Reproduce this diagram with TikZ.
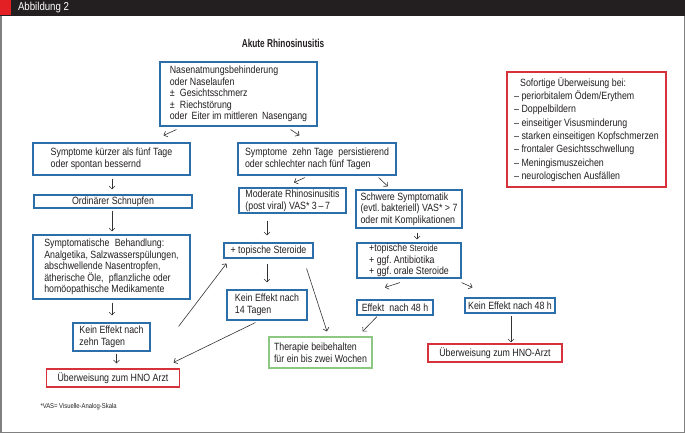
\documentclass[tikz,border=0pt]{standalone}
\usepackage{fontspec}
\setmainfont[FakeStretch=0.84]{Liberation Sans}
\newfontfamily\condfont[FakeStretch=0.72]{Liberation Sans}
\usetikzlibrary{arrows.meta}
\definecolor{boxblue}{RGB}{44,110,170}
\definecolor{boxred}{RGB}{214,50,60}
\definecolor{boxgreen}{RGB}{140,200,130}
\definecolor{headdark}{RGB}{35,31,32}
\definecolor{headred}{RGB}{227,32,36}
\definecolor{inkgray}{RGB}{51,51,51}
\begin{document}
\begin{tikzpicture}[x=1pt, y=-1pt,
	>={Straight Barb[length=3pt,width=6pt]},
	every node/.style={text=headdark, font=\fontsize{10.5}{11.6}\selectfont},
	blubox/.style={draw=boxblue, line width=1.1pt, fill=white, inner sep=0pt, align=left},
	redbox/.style={blubox, draw=boxred},
	grnbox/.style={blubox, draw=boxgreen},
	link/.style={->, draw=inkgray, line width=0.6pt}]
% Frame and header
\useasboundingbox (0,0) rectangle (685,433);
\draw[draw=gray, line width=1.5pt] (0.75,0) -- (0.75,432.25) -- (684.25,432.25) -- (684.25,0);
\fill[headdark] (0,0) rectangle (685,16);
\fill[headred] (0,0) rectangle (11,15);
\node[anchor=west, text=white, font=\fontsize{11.5}{12}\selectfont] (Head) at (14.5,8) {Abbildung 2};
\node[font=\condfont\bfseries\fontsize{11.5}{12}\selectfont] (Title) at (283,43) {Akute Rhinosinusitis};

% Start
\node[blubox, minimum width=157, minimum height=64] (Start) at (238.5,94)
	{Nasenatmungsbehinderung\\oder Naselaufen\\±\enspace Gesichtsschmerz\\±\enspace Riechstörung\\oder\, Eiter im mittleren\, Nasengang};

% Urgent referral
\node[redbox, minimum width=159, minimum height=115] (Urgent) at (586.5,129.5)
	{\hspace{6pt}Sofortige Überweisung bei:\\[1.7pt]
	 -- periorbitalem Ödem/Erythem\\[1.7pt]
	 -- Doppelbildern\\[1.7pt]
	 -- einseitiger Visusminderung\\[1.7pt]
	 -- starken einseitigen Kopfschmerzen\\[1.7pt]
	 -- frontaler Gesichtsschwellung\\[1.7pt]
	 -- Meningismuszeichen\\[1.7pt]
	 -- neurologischen Ausfällen};

% Left branch
\node[blubox, minimum width=157, minimum height=32] (Short) at (111.5,159)
	{Symptome kürzer als fünf Tage\\oder spontan bessernd};
\node[blubox, minimum width=158, minimum height=13] (Cold) at (113,201.5)
	{Ordinärer Schnupfen};
\node[blubox, minimum width=157, minimum height=64] (Symptomatic) at (111.5,267)
	{Symptomatische\enspace Behandlung:\\Analgetika, Salzwasserspülungen,\\abschwellende Nasentropfen,\\ätherische Öle,\enspace pflanzliche oder\\homöopathische Medikamente};
\node[blubox, minimum width=77, minimum height=28] (NoEffect-10) at (111.5,337)
	{Kein Effekt nach\\zehn Tagen};
\node[redbox, minimum width=133, minimum height=18] (Refer-1) at (113,378)
	{Überweisung zum HNO Arzt};
\node[anchor=west, font=\fontsize{7}{8}\selectfont] (Note) at (37,407)
	{*VAS= Visuelle-Analog-Skala};

% Right branch
\node[blubox, minimum width=158, minimum height=32] (Long) at (317,159)
	{Symptome\enspace zehn Tage\enspace persistierend\\oder schlechter nach fünf Tagen};
\node[blubox, minimum width=107, minimum height=25] (Moderate) at (292.5,200.5)
	{Moderate Rhinosinusitis\\(post viral) VAS* 3\,–\,7};
\node[blubox, minimum width=106, minimum height=38] (Severe) at (409,209)
	{Schwere Symptomatik\\(evtl.\,bakteriell) VAS* > 7\\oder mit Komplikationen};
\node[blubox, minimum width=89, minimum height=15] (Steroid-1) at (268.5,250.5)
	{+ topische Steroide};
\node[blubox, minimum width=80, minimum height=30] (NoEffect-14) at (267,305)
	{Kein Effekt nach\\14 Tagen};
\node[blubox, minimum width=104, minimum height=35] (Steroid-3) at (409,260.5)
	{+topische {\fontsize{9}{11.6}\selectfont Steroide}\\+ ggf.\ Antibiotika\\+ ggf.\ orale Steroide};
\node[blubox, minimum width=76, minimum height=15] (Effect-48) at (395,307.5)
	{Effekt\enspace nach 48 h};
\node[blubox, minimum width=90, minimum height=15] (NoEffect-48) at (510,305.5)
	{Kein Effekt nach 48 h};
\node[grnbox, minimum width=103, minimum height=31] (Continue) at (320.5,352.5)
	{Therapie beibehalten\\für ein bis zwei Wochen};
\node[redbox, minimum width=134, minimum height=18] (Refer-2) at (495,353)
	{Überweisung zum HNO-Arzt};

% Connect boxes
\draw[link] ([shift={(17,3)}]Start.south west) -- ([shift={(-27,-7)}]Short.north east);
\draw[link] ([shift={(-27,3)}]Start.south east) -- ([shift={(62,-7)}]Long.north west);
\draw[link] ([shift={(0.5,3)}]Short.south) -- ([shift={(-1,-5)}]Cold.north);
\draw[link] ([shift={(-1,2)}]Cold.south) -- ([shift={(0.5,-3)}]Symptomatic.north);
\draw[link] ([shift={(0.5,3)}]Symptomatic.south) -- ([shift={(0.5,-7)}]NoEffect-10.north);
\draw[link] ([shift={(5,2)}]NoEffect-10.south) -- ([shift={(3.5,-5)}]Refer-1.north);
\draw[link] ([shift={(28,4)}]NoEffect-10.north east) -- ([shift={(3,5)}]Steroid-1.south west);
\draw[link] ([shift={(29,2)}]NoEffect-14.south west) -- ([shift={(-6.5,-6)}]Refer-1.north east);
\draw[link] ([shift={(-12,2)}]Long.south) -- ([shift={(1.5,-5)}]Moderate.north);
\draw[link] ([shift={(-18,2)}]Long.south east) -- ([shift={(-21,-3)}]Severe.north);
\draw[link] ([shift={(-25.5,7)}]Moderate.south) -- ([shift={(-1.5,-7)}]Steroid-1.north);
\draw[link] ([shift={(-1.5,5)}]Steroid-1.south) -- ([shift={(0,-7)}]NoEffect-14.north);
\draw[link] ([shift={(-7,10)}]Steroid-1.south east) -- ([shift={(6.5,-5)}]Continue.north);
\draw[link] ([shift={(8,4)}]Severe.south) -- ([shift={(8,-3)}]Steroid-3.north);
\draw[link] ([shift={(-9,4)}]Steroid-3.south) -- ([shift={(-10,-12)}]Effect-48.north);
\draw[link] ([shift={(0,4)}]Steroid-3.south east) -- ([shift={(8,-10)}]NoEffect-48.north west);
\draw[link] ([shift={(-18,1)}]Effect-48.south) -- ([shift={(-10,-5)}]Continue.north east);
\draw[link] ([shift={(1,2)}]NoEffect-48.south) -- ([shift={(16,-1)}]Refer-2.north);
\end{tikzpicture}
\end{document}
